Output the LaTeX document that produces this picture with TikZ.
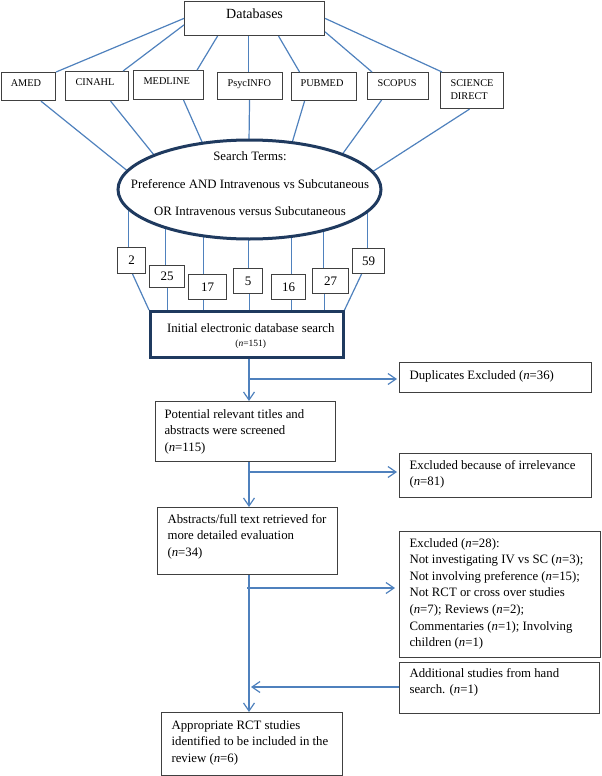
\documentclass[tikz,border=0pt]{standalone}
\usepackage{fontspec}
\setmainfont{Liberation Serif}
\usetikzlibrary{arrows.meta,shapes.geometric}
\definecolor{lnblue}{HTML}{4F81BD}
\definecolor{navy}{HTML}{1F3A5F}
\definecolor{boxgray}{HTML}{404040}
\newcommand{\inbox}[5]{\parbox[t][#2][t]{#1}{#4\rule{0pt}{#3}#5}}
\newcommand{\nn}{\textit{n}}
\begin{document}
\begin{tikzpicture}[x=1pt,y=-1pt,
  conn/.style={draw=lnblue, line width=1.2pt},
  arr/.style={conn, -{Straight Barb[length=8pt,width=11pt]}},
  dbbox/.style={draw=boxgray, line width=1.1pt, anchor=north west, inner sep=0pt, font=\fontsize{10.3}{13}\selectfont},
  numbox/.style={draw=boxgray, line width=1.1pt, anchor=north west, inner sep=0pt, font=\fontsize{13}{15}\selectfont},
  flowbox/.style={draw=boxgray, line width=1.1pt, anchor=north west, inner sep=0pt, font=\fontsize{12.8}{16.6}\selectfont},
]
\useasboundingbox (0,0) rectangle (602,776);

% Databases and sources
\node[flowbox, font=\fontsize{14}{16}\selectfont] (db) at (184,0.7) {\inbox{140pt}{34.3pt}{17pt}{\centering}{Databases}};
\node[dbbox] (amed) at (0.7,72) {\inbox{54.3pt}{28pt}{14.4pt}{\raggedright\leftskip=9.5pt}{AMED}};
\node[dbbox] (cin) at (65,71) {\inbox{63pt}{29pt}{14.4pt}{\raggedright\leftskip=10pt}{CINAHL}};
\node[dbbox] (med) at (133,70) {\inbox{70pt}{29pt}{14.4pt}{\raggedright\leftskip=10pt}{MEDLINE}};
\node[dbbox] (psy) at (217,72) {\inbox{65pt}{27pt}{14.4pt}{\raggedright\leftskip=10pt}{PsycINFO}};
\node[dbbox] (pub) at (291,72) {\inbox{65pt}{28pt}{14.4pt}{\raggedright\leftskip=9pt}{PUBMED}};
\node[dbbox] (sco) at (367,72) {\inbox{61pt}{27pt}{14.4pt}{\raggedright\leftskip=10pt}{SCOPUS}};
\node[dbbox] (sd) at (440,72) {\inbox{63pt}{36pt}{14.4pt}{\raggedright\leftskip=10pt}{SCIENCE\\DIRECT}};

\draw[conn] (db.west) -- (amed.north east);
\draw[conn] ([yshift=-6.5pt]db.west) -- ([xshift=-6pt]cin.north east);
\draw[conn] ([xshift=-37pt]db.south) -- ([xshift=-7pt]med.north east);
\draw[conn] ([xshift=-6pt]db.south) -- ([xshift=-1.5pt]psy.north);
\draw[conn] ([xshift=24pt]db.south) -- ([xshift=-24.5pt]pub.north);
\draw[conn] ([yshift=-13.5pt]db.east) -- ([xshift=5pt]sco.north west);
\draw[conn] (db.east) -- ([xshift=2pt]sd.north west);

% ellipse contact points
\coordinate (ec) at (249.5,189.5);
\coordinate (ea) at (127,170.5);
\coordinate (eb) at (154,155);
\coordinate (em) at (202.5,143);
\coordinate (ep) at (249,141);
\coordinate (eu) at (292,143);
\coordinate (es) at (342.5,154);
\coordinate (ed) at (372,172);

\draw[conn] ([xshift=12.5pt]amed.south) -- (ea);
\draw[conn] ([xshift=13.5pt]cin.south) -- (eb);
\draw[conn] ([xshift=15pt]med.south) -- (em);
\draw[conn] ([xshift=-0.5pt]psy.south) -- (ep);
\draw[conn] ([xshift=-19.5pt]pub.south) -- (eu);
\draw[conn] ([xshift=-16.5pt]sco.south) -- (es);
\draw[conn] ([xshift=-2.5pt]sd.south) -- (ed);

% number boxes
\node[numbox, minimum width=28pt, minimum height=26pt] (n2) at (117,247) {2};
\node[numbox, minimum width=35pt, minimum height=22pt] (n25) at (149,265) {25};
\node[numbox, minimum width=38pt, minimum height=25pt] (n17) at (188,274) {17};
\node[numbox, minimum width=29pt, minimum height=25pt] (n5) at (233,268) {5};
\node[numbox, minimum width=34pt, minimum height=25pt] (n16) at (271,274) {16};
\node[numbox, minimum width=36pt, minimum height=25pt] (n27) at (312,268) {27};
\node[numbox, minimum width=32pt, minimum height=25pt] (n59) at (352,248) {59};

\draw[conn] ([xshift=-3pt]n2.north) -- ([xshift=-3pt]n2.north |- ec);
\draw[conn] ([xshift=-1.5pt]n25.north) -- ([xshift=-1.5pt]n25.north |- ec);
\draw[conn] ([xshift=-4pt]n17.north) -- ([xshift=-4pt]n17.north |- ec);
\draw[conn] ([xshift=0.5pt]n5.north) -- ([xshift=0.5pt]n5.north |- ec);
\draw[conn] ([xshift=3pt]n16.north) -- ([xshift=3pt]n16.north |- ec);
\draw[conn] ([xshift=-7pt]n27.north) -- ([xshift=-7pt]n27.north |- ec);
\draw[conn] ([xshift=-1pt]n59.north) -- ([xshift=-1pt]n59.north |- ec);

% search terms ellipse
\node[ellipse, draw=navy, line width=3pt, fill=white, minimum width=263pt, minimum height=99pt, inner sep=0pt] (E) at (ec) {};
\node[font=\fontsize{12.8}{27.5}\selectfont, align=center] (Et) at (250,183.7) {Search Terms:\\Preference AND Intravenous vs Subcutaneous\\OR Intravenous versus Subcutaneous};

% initial search
\node[draw=navy, line width=2.5pt, anchor=north west, inner sep=0pt, font=\fontsize{12.8}{16.6}\selectfont] (init) at (149,310) {\inbox{193pt}{46pt}{21pt}{\centering}{\hspace*{8pt}Initial electronic database search\\[-2pt]\hspace*{8pt}{\fontsize{9.5}{11}\selectfont(\nn=151)}}};

\draw[conn] ([xshift=1pt]n2.south) -- (init.north west);
\draw[conn] ([xshift=0.5pt]n25.south) -- ([xshift=0.5pt]n25.south |- init.north);
\draw[conn] ([xshift=-4pt]n17.south) -- ([xshift=-4pt]n17.south |- init.north);
\draw[conn] ([xshift=1.5pt]n5.south) -- ([xshift=1.5pt]n5.south |- init.north);
\draw[conn] ([xshift=3pt]n16.south) -- ([xshift=3pt]n16.south |- init.north);
\draw[conn] ([xshift=-6pt]n27.south) -- ([xshift=-6pt]n27.south |- init.north);
\draw[conn] ([xshift=-7pt]n59.south) -- (init.north east);

% flow boxes
\node[flowbox] (dup) at (399,362) {\inbox{192pt}{30pt}{16.5pt}{\raggedright\leftskip=10pt}{Duplicates Excluded (\nn=36)}};
\node[flowbox] (pot) at (155,401) {\inbox{180pt}{60pt}{16.5pt}{\raggedright\leftskip=9pt}{Potential relevant titles and\\abstracts were screened\\(\nn=115)}};
\node[flowbox] (irr) at (399,453) {\inbox{192pt}{44pt}{15.5pt}{\raggedright\leftskip=10pt}{Excluded because of irrelevance\\(\nn=81)}};
\node[flowbox] (abs) at (157,507) {\inbox{180pt}{67pt}{15.5pt}{\raggedright\leftskip=10pt}{Abstracts/full text retrieved for\\more detailed evaluation\\(\nn=34)}};
\node[flowbox] (ex) at (399,531) {\inbox{201pt}{126pt}{15.5pt}{\raggedright\leftskip=10pt}{Excluded (\nn=28):\\Not investigating IV vs SC (\nn=3);\\Not involving preference (\nn=15);\\Not RCT or cross over studies\\(\nn=7); Reviews (\nn=2);\\Commentaries (\nn=1); Involving\\children (\nn=1)}};
\node[flowbox] (add) at (399,662) {\inbox{200pt}{51pt}{14.5pt}{\raggedright\leftskip=10pt}{Additional studies from hand\\search. (\nn=1)}};
\node[flowbox] (app) at (161,712) {\inbox{181pt}{63pt}{16.5pt}{\raggedright\leftskip=10pt}{Appropriate RCT studies\\identified to be included in the\\review (\nn=6)}};

% flow arrows
\coordinate (mx) at (249,0);
\coordinate (b1) at (249,379);
\coordinate (b2) at (249,472);
\coordinate (b3) at (247,588);
\coordinate (b4) at (251,687);
\draw[arr] (init.south -| mx) -- (pot.north -| mx);
\draw[arr, shorten >=2pt] (b1) -- (b1 -| dup.west);
\draw[arr] (pot.south -| mx) -- (abs.north -| mx);
\draw[arr, shorten >=2pt] (b2) -- (b2 -| irr.west);
\draw[arr] (abs.south -| mx) -- (app.north -| mx);
\draw[arr, shorten >=4pt] (b3) -- (b3 -| ex.west);
\draw[arr] (add.west |- b4) -- (b4);
\end{tikzpicture}
\end{document}
